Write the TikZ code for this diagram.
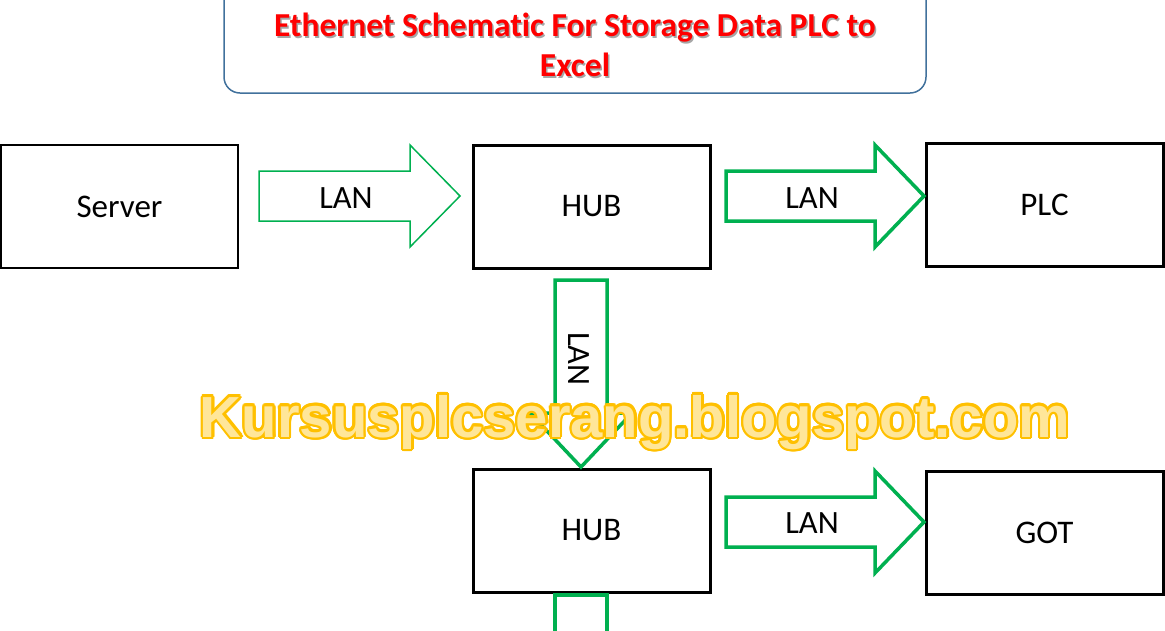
\documentclass[tikz,border=0pt]{standalone}
\usepackage{fontspec}
\usetikzlibrary{calc}
\setmainfont{Carlito}[Ligatures=CommonOff]
\newfontfamily\wmfont{Liberation Sans}
\definecolor{lgreen}{HTML}{00B050}
\definecolor{framec}{HTML}{41719C}
\definecolor{wmfill}{HTML}{FFE699}
\definecolor{wmline}{HTML}{FFC000}
\tikzset{
  thinbox/.style={draw=black, line width=1.5pt, fill=white, minimum width=237pt, minimum height=123pt, inner sep=0pt, font=\fontsize{33}{38}\selectfont},
  thickbox/.style={thinbox, line width=3pt},
  thinarrow/.style={draw=lgreen, line width=1.5pt, fill=white, line join=miter},
  thickarrow/.style={draw=lgreen, line width=3.5pt, fill=white, line join=miter},
  lanlabel/.style={font=\fontsize{32.5}{38}\selectfont, inner sep=0pt},
  wm/.style={font=\wmfont\bfseries\fontsize{58}{64}\selectfont, anchor=base, inner sep=0pt},
  titletext/.style={font=\bfseries\fontsize{33.5}{40}\selectfont, align=center, inner sep=0pt},
}
\begin{document}
\begin{tikzpicture}[x=1pt,y=-1pt]
\useasboundingbox (0,0) rectangle (1165,630);
% title
\draw[framec, line width=1.5pt, rounded corners=16pt, fill=white] (224,-20) rectangle (926,93);
\node[titletext, text=gray!70] at (576.5,46.5) {Ethernet Schematic For Storage Data PLC to\\Excel};
\node (title) [titletext, text=red] at (575,45) {Ethernet Schematic For Storage Data PLC to\\Excel};
% boxes
\node (server) [thinbox] at (119.5,206.5) {\raisebox{-2.5pt}{Server}};
\node (hub1) [thickbox] at (591.5,206.5) {\raisebox{-2.5pt}{HUB}};
\node (plc) [thickbox] at (1044.5,204.5) {\raisebox{-1.5pt}{PLC}};
\node (hub2) [thickbox] at (591.5,530.5) {\raisebox{-1.5pt}{HUB}};
\node (got) [thickbox] at (1044.5,532.5) {\raisebox{-1.5pt}{GOT}};
% arrows
\draw[thinarrow] (259,171) -- (410,171) -- (410,145) -- (460,196) -- (410,247) -- (410,221) -- (259,221) -- cycle;
\node (lan1) [lanlabel] at (346,198) {LAN};
\draw[thickarrow] (726,171) -- (875,171) -- (875,145) -- (924,196) -- (875,247) -- (875,221) -- (726,221) -- cycle;
\node (lan2) [lanlabel] at (812,198) {LAN};
\draw[thickarrow] (726,497) -- (875,497) -- (875,471) -- (924,522) -- (875,573) -- (875,547) -- (726,547) -- cycle;
\node (lan4) [lanlabel] at (812,523) {LAN};
\draw[thickarrow] (555,280) -- (607,280) -- (607,413) -- (632,413) -- (581,467) -- (530,413) -- (555,413) -- cycle;
\node (lan3) [lanlabel, rotate=-90] at (579,359) {LAN};
\draw[thickarrow] (555,640) -- (555,595) -- (607,595) -- (607,640);
% watermark
\foreach \a in {0,20,...,340}{
  \node[wm, text=wmline] at ($(635,437)+(\a:2.4)$) {Kursusplcserang.blogspot.com};
}
\node (wmark) [wm, text=wmfill] at (635,437) {Kursusplcserang.blogspot.com};
\end{tikzpicture}
\end{document}
